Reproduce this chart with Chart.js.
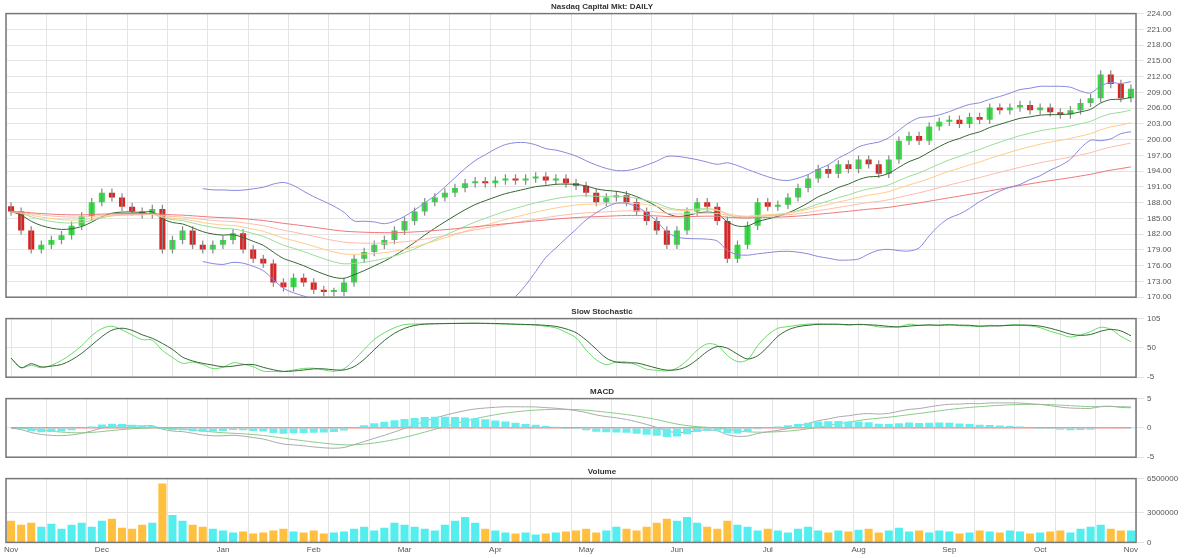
<!DOCTYPE html>
<html><head><meta charset="utf-8">
<script src="https://cdn.jsdelivr.net/npm/chart.js@4"></script>
<style>
body{margin:0;background:#fff;font-family:"DejaVu Sans",sans-serif;}
.p{position:absolute;left:0;width:1200px;}
</style></head><body>
<div class="p" style="top:0;height:305px"><canvas id="c1"></canvas></div>
<div class="p" style="top:305px;height:80px"><canvas id="c2"></canvas></div>
<div class="p" style="top:385px;height:80px"><canvas id="c3"></canvas></div>
<div class="p" style="top:465px;height:93px"><canvas id="c4"></canvas></div>
<script>
const closes=[186.3,182.7,179.1,180,180.9,181.8,183.6,185.4,188.1,189.9,189,187.2,186.3,185.8,186.8,179.1,180.9,182.7,180,179.1,180,180.9,182.2,179.1,177.3,176.4,172.8,171.9,173.7,172.8,171.4,171,171,172.8,177.3,178.6,180,180.9,182.7,184.5,186.3,188.1,189,189.9,190.8,191.7,192.1,191.7,192.2,192.6,192.2,192.6,193,192.2,192.6,191.7,191.2,189.9,188.1,189,189.4,188.1,186.3,184.5,182.7,180,182.7,186.3,188.1,187.2,184.5,177.3,180,183.6,188.1,187.2,187.6,189,190.8,192.6,194.4,193.5,195.3,194.4,196.2,195.3,193.5,196.2,199.8,200.7,199.8,202.5,203.4,203.8,203,204.3,203.8,206.1,205.6,206.1,206.6,205.6,206.1,205.2,204.8,205.6,207,207.9,212.4,210.6,207.9,209.7];
const volumes=[22,18,20,16,19,14,18,20,16,22,24,15,14,18,20,60,28,22,18,16,14,12,10,11,9,10,12,14,11,10,12,9,10,11,14,16,12,15,20,18,16,14,12,18,22,26,20,14,12,10,9,10,8,9,10,11,12,14,10,12,16,14,12,16,20,24,22,26,20,16,14,22,18,16,12,14,12,10,14,16,12,10,12,11,13,14,10,12,15,11,12,10,12,11,9,10,12,11,10,12,11,9,10,11,12,10,14,16,18,14,12,12];
const dateLabels=["Nov","","","Dec","","","","Jan","","","Feb","","","Mar","","","Apr","","","May","","","Jun","","","Jul","","","Aug","","","Sep","","","Oct","","","Nov",""];
const title="Nasdaq Capital Mkt: DAILY";
const N=closes.length;
const labels=closes.map((_,i)=>i);
const opens=closes.map((c,i)=>i?closes[i-1]:c+1);
const up=closes.map((c,i)=>c>=opens[i]);
function sma(a,n){return a.map((_,i)=>i<n-1?null:a.slice(i-n+1,i+1).reduce((s,v)=>s+v,0)/n);}
function ema(a,n){const k=2/(n+1);let e=a[0];return a.map(v=>e=v*k+e*(1-k));}
function std(a,n){return a.map((_,i)=>{if(i<n-1)return null;const s=a.slice(i-n+1,i+1);const m=s.reduce((x,y)=>x+y,0)/n;return Math.sqrt(s.reduce((x,y)=>x+(y-m)**2,0)/n);});}
const ma20=sma(closes,20),sd=std(closes,20);
const bbU=ma20.map((m,i)=>m==null?null:m+2*sd[i]),bbL=ma20.map((m,i)=>m==null?null:m-2*sd[i]);
const e10=ema(closes,10),e20=ema(closes,20),e30=ema(closes,30),e50=ema(closes,50),e90=ema(closes,90);
const hi=closes.map((c,i)=>Math.max(c,opens[i])+0.8),lo=closes.map((c,i)=>Math.min(c,opens[i])-0.8);
const k=closes.map((c,i)=>{const s=Math.max(0,i-13);const H=Math.max(...hi.slice(s,i+1)),L=Math.min(...lo.slice(s,i+1));return 100*(c-L)/(H-L||1);});
const kS=sma(k,3).map((v,i)=>v??k[i]),dS=sma(kS,3).map((v,i)=>v??kS[i]);
const macd=ema(closes,12).map((v,i)=>v-ema(closes,26)[i]),sig=ema(macd,9),hist=macd.map((v,i)=>v-sig[i]);
const AW=62;
const grid={color:'#e4e4e4'};
const xgrid={color:c=>c.index%4===0?'#e4e4e4':'rgba(0,0,0,0)',drawTicks:false};
function yAx(extra){return Object.assign({position:'right',grid,ticks:{font:{size:8},color:'#555'},afterFit:s=>{s.width=AW;}},extra);}
function xAx(show){return {grid:xgrid,offset:true,ticks:{display:show,font:{size:8},color:'#555',autoSkip:false,maxRotation:0,callback:(v,i)=>i%3===0?(dateLabels[i/3]||''):''}};}
const base={responsive:true,maintainAspectRatio:false,animation:false,plugins:{legend:{display:false},tooltip:{enabled:false}},layout:{padding:{left:6,right:2,top:0,bottom:0}}};
function tplug(t){return {title:{display:true,text:t,font:{size:8},color:'#333',padding:{top:2,bottom:2}}};}
const frame={id:'frame',afterDraw(c){const a=c.chartArea,x=c.ctx;x.save();x.strokeStyle='#777';x.lineWidth=1.5;x.strokeRect(a.left,a.top,a.right-a.left,a.bottom-a.top);x.restore();}};
const line=(d,col,w=1)=>({type:'line',data:d,borderColor:col,borderWidth:w,pointRadius:0,fill:false,tension:0.3});
new Chart(c1,{data:{labels,datasets:[
 line(bbU,'#8888dd'),line(bbL,'#8888dd'),line(e90,'#ee7777'),line(e50,'#ffbbaa'),line(e30,'#ffcc88'),line(e20,'#99dd99'),line(e10,'#336633'),
 {type:'bar',data:labels.map(i=>[lo[i],hi[i]]),backgroundColor:'#888',barPercentage:0.12,categoryPercentage:1,grouped:false},
 {type:'bar',data:labels.map(i=>[opens[i],closes[i]]),backgroundColor:up.map(u=>u?'#33dd44':'#dd2222'),barPercentage:0.6,categoryPercentage:1,grouped:false,minBarLength:2}
]},options:{...base,plugins:{...base.plugins,...tplug(title)},scales:{x:xAx(false),y:yAx({min:170,max:224,ticks:{font:{size:8},color:'#555',stepSize:3,callback:v=>v.toFixed(2)}})}},plugins:[frame]});
new Chart(c2,{data:{labels,datasets:[line(dS,'#336633'),line(kS,'#66dd66')]},options:{...base,plugins:{...base.plugins,...tplug('Slow Stochastic')},scales:{x:xAx(false),y:yAx({min:-5,max:105,ticks:{font:{size:8},stepSize:50,color:'#555'}})}},plugins:[frame]});
new Chart(c3,{data:{labels,datasets:[
 {type:'bar',data:hist,backgroundColor:'#66eeee',barPercentage:0.8,categoryPercentage:1},
 line(macd,'#aaaaaa'),line(sig,'#88cc88'),line(labels.map(()=>0),'#ee6666')
]},options:{...base,plugins:{...base.plugins,...tplug('MACD')},scales:{x:xAx(false),y:yAx({ticks:{font:{size:8},color:'#555',maxTicksLimit:4}})}},plugins:[frame]});
new Chart(c4,{data:{labels,datasets:[{type:'bar',data:volumes,backgroundColor:up.map(u=>u?'#55eeee':'#ffc040'),barPercentage:0.8,categoryPercentage:1}]},
 options:{...base,plugins:{...base.plugins,...tplug('Volume')},scales:{x:xAx(true),y:yAx({min:0,max:65,ticks:{font:{size:8},color:'#555',stepSize:30,callback:v=>v*100000}})}},plugins:[frame]});
</script></body></html>
